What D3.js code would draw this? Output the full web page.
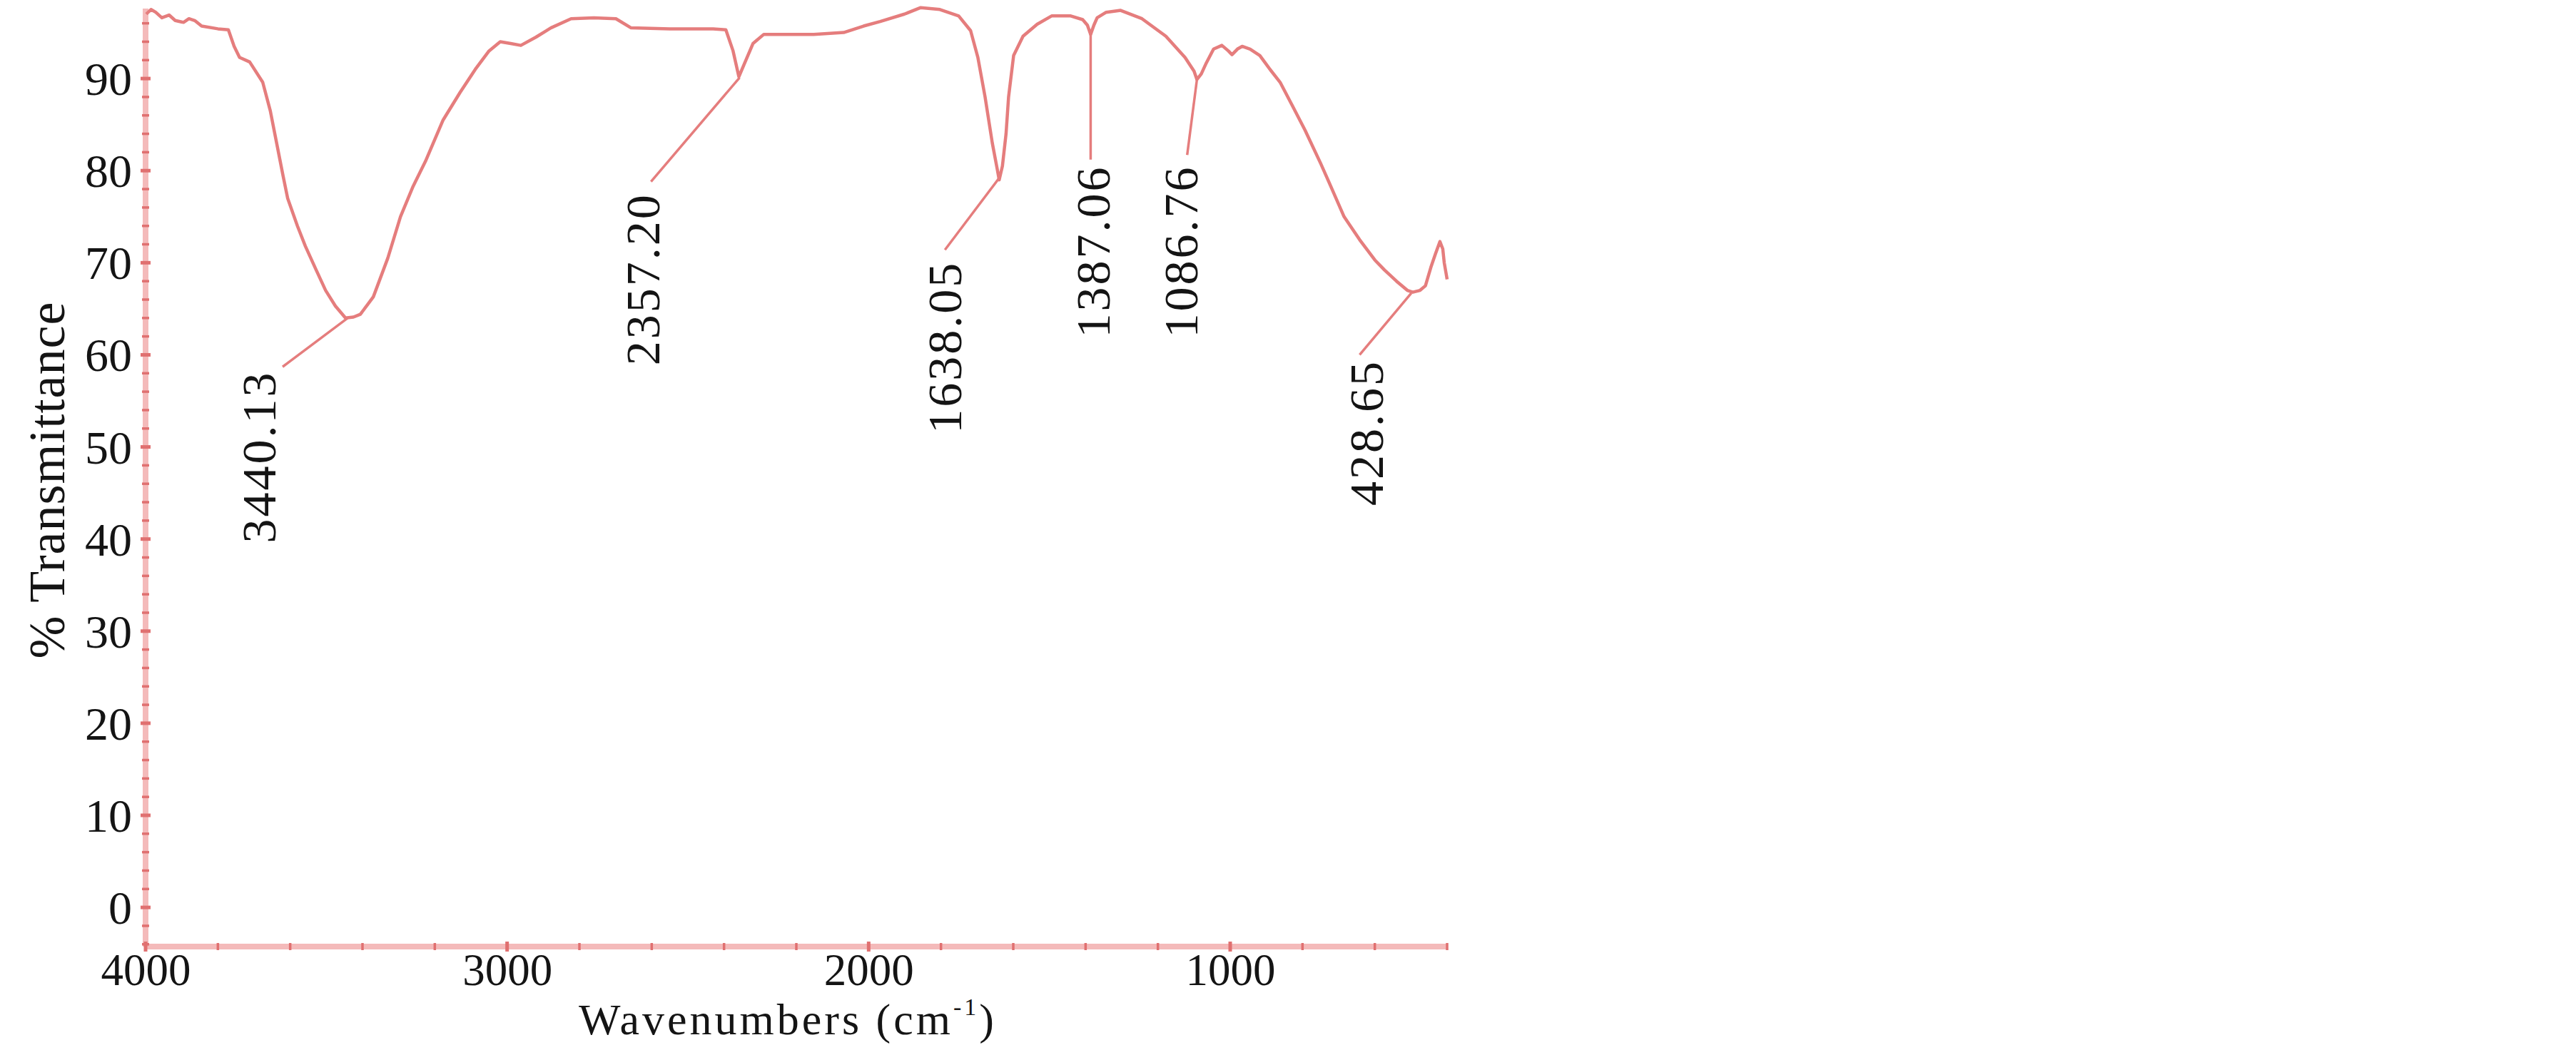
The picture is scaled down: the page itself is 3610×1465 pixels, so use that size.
<!DOCTYPE html>
<html>
<head>
<meta charset="utf-8">
<script src="https://cdn.jsdelivr.net/npm/d3@7"></script>
<style>
  html, body { margin: 0; padding: 0; background: #ffffff; }
  svg text { font-family: "Liberation Serif", "Times New Roman", serif; fill: #141414; }
</style>
</head>
<body>
<div id="chart"></div>
<script>
// FTIR spectrum (wavenumber in cm-1, % transmittance)
var wavenumbers = [3998, 3985, 3972, 3955, 3935, 3918, 3895, 3880, 3864, 3845, 3800, 3771, 3755, 3740, 3712,
  3676, 3655, 3641, 3620, 3607, 3580, 3558, 3528, 3502, 3475, 3447, 3425, 3406, 3385, 3370, 3330, 3295,
  3260, 3226, 3177, 3130, 3088, 3050, 3019, 2990, 2962, 2920, 2879, 2823, 2760, 2699, 2657, 2550, 2430,
  2395, 2375, 2359, 2345, 2320, 2290, 2200, 2152, 2069, 2014, 1968, 1901, 1856, 1803, 1751, 1718, 1698,
  1678, 1658, 1645, 1639, 1630, 1620, 1613, 1599, 1573, 1534, 1494, 1441, 1408, 1395, 1386, 1377, 1368,
  1343, 1303, 1244, 1178, 1125, 1100, 1092, 1080, 1066, 1046, 1023, 1005, 995, 980, 967, 945, 918, 890,
  862, 830, 793, 750, 724, 685, 642, 600, 573, 540, 510, 495, 475, 460, 445, 432, 420, 412, 408, 400];
var transmittance = [97.0, 97.5, 97.2, 96.6, 96.9, 96.3, 96.1, 96.5, 96.3, 95.7, 95.4, 95.3, 93.5, 92.3, 91.8,
  89.6, 86.5, 83.7, 79.5, 77.0, 74.0, 71.8, 69.2, 67.0, 65.3, 64.0, 64.1, 64.4, 65.5, 66.3, 70.5, 75.0,
  78.3, 81.0, 85.5, 88.5, 91.0, 93.0, 94.0, 93.8, 93.6, 94.5, 95.5, 96.5, 96.6, 96.5, 95.5, 95.4, 95.4,
  95.3, 93.0, 90.2, 91.5, 93.8, 94.8, 94.8, 94.8, 95.0, 95.7, 96.2, 97.0, 97.7, 97.5, 96.8, 95.2, 92.3,
  88.0, 83.0, 80.3, 79.0, 80.5, 84.0, 88.0, 92.5, 94.6, 95.9, 96.8, 96.8, 96.4, 95.8, 94.8, 95.8, 96.6,
  97.2, 97.4, 96.5, 94.6, 92.3, 90.8, 89.9, 90.5, 91.7, 93.2, 93.6, 93.0, 92.6, 93.2, 93.5, 93.2, 92.5, 91.0,
  89.6, 87.2, 84.4, 80.8, 78.5, 75.0, 72.5, 70.3, 69.2, 68.0, 67.0, 66.8, 67.0, 67.5, 69.5, 71.0, 72.3, 71.5, 70.0, 68.2];

// peak annotations: label text, point on the curve, end of the leader, label top
var peakLabels = ["3440.13", "2357.20", "1638.05", "1387.06", "1086.76", "428.65"];
var peakWave = [3441, 2357, 1639, 1386, 1092, 499];
var peakTrans = [64.0, 90.1, 79.2, 94.8, 89.9, 66.7];
var leaderWave = [3621, 2602, 1789, 1386, 1119, 642];
var leaderTrans = [58.7, 78.8, 71.4, 81.2, 81.7, 60.0];
var labelWave = [3688, 2626, 1791, 1380, 1137, 624];
var labelTrans = [58.3, 77.6, 70.2, 80.6, 80.6, 59.5];

var xMajorTicks = [4000, 3000, 2000, 1000];
var yMajorTicks = [0, 10, 20, 30, 40, 50, 60, 70, 80, 90];

var width = 3610;
var height = 1465;
var lineColor = "#e57d7d";
var axisColor = "#f0a3a3";
var tickColor = "#e07070";

var x = d3.scaleLinear().domain([4000, 400]).range([204, 2028]);
var y = d3.scaleLinear().domain([-4.25, 97.6]).range([1327, 12]);

var svg = d3.select("#chart")
    .append("svg")
    .attr("width", width)
    .attr("height", height);

svg.append("rect").attr("width", width).attr("height", height).attr("fill", "#ffffff");

// minor ticks every 2 % and every 200 cm-1
var yMinor = d3.range(-4, 97, 2);
var xMinor = d3.range(4000, 399, -200);

var yAxisG = svg.append("g").attr("transform", "translate(" + x(4000) + ",0)");
yAxisG.call(d3.axisLeft(y).tickValues(yMajorTicks).tickSize(0).tickPadding(19));
yAxisG.select(".domain").remove();
yAxisG.selectAll("text").style("font-size", "66px").attr("dy", "0.34em");

var xAxisG = svg.append("g").attr("transform", "translate(0," + y(-4.25) + ")");
xAxisG.call(d3.axisBottom(x).tickValues(xMajorTicks).tickSize(0).tickPadding(9).tickFormat(d3.format("d")));
xAxisG.select(".domain").remove();
xAxisG.selectAll("text").style("font-size", "63px").attr("dy", "0.71em");

// axis lines (thick, soft pink)
svg.append("line")
    .attr("x1", x(4000)).attr("x2", x(4000))
    .attr("y1", y(-4.25)).attr("y2", y(97.6))
    .attr("stroke", axisColor).attr("stroke-width", 8).attr("stroke-opacity", 0.75);
svg.append("line")
    .attr("x1", x(4000)).attr("x2", x(400))
    .attr("y1", y(-4.25)).attr("y2", y(-4.25))
    .attr("stroke", axisColor).attr("stroke-width", 8).attr("stroke-opacity", 0.75);

// tick marks across the axis lines
svg.append("g").selectAll("line")
    .data(yMinor)
    .enter()
    .append("line")
    .attr("x1", d => x(4000) - (d % 10 === 0 ? 7 : 5))
    .attr("x2", d => x(4000) + (d % 10 === 0 ? 7 : 5))
    .attr("y1", d => y(d)).attr("y2", d => y(d))
    .attr("stroke", tickColor)
    .attr("stroke-width", d => d % 10 === 0 ? 5 : 3.5);

svg.append("g").selectAll("line")
    .data(xMinor)
    .enter()
    .append("line")
    .attr("x1", d => x(d)).attr("x2", d => x(d))
    .attr("y1", d => y(-4.25) - (d % 1000 === 0 ? 7 : 5))
    .attr("y2", d => y(-4.25) + (d % 1000 === 0 ? 7 : 5))
    .attr("stroke", tickColor)
    .attr("stroke-width", d => d % 1000 === 0 ? 5 : 3.5);

// spectrum
var spectrum = wavenumbers.map((w, i) => ({ w: w, t: transmittance[i] }));
var line = d3.line()
    .x(d => x(d.w))
    .y(d => y(d.t));

svg.append("path")
    .datum(spectrum)
    .attr("d", line)
    .attr("fill", "none")
    .attr("stroke", lineColor)
    .attr("stroke-width", 4.5)
    .attr("stroke-linejoin", "round");

// peak leaders and labels
var peaks = peakLabels.map((label, i) => ({
    label: label,
    pw: peakWave[i], pt: peakTrans[i],
    lw: leaderWave[i], lt: leaderTrans[i],
    tw: labelWave[i], tt: labelTrans[i]
}));

var peakG = svg.append("g").selectAll("g")
    .data(peaks)
    .enter()
    .append("g");

peakG.append("line")
    .attr("x1", d => x(d.pw)).attr("y1", d => y(d.pt))
    .attr("x2", d => x(d.lw)).attr("y2", d => y(d.lt))
    .attr("stroke", lineColor)
    .attr("stroke-width", 3.5);

peakG.append("text")
    .attr("transform", d => "translate(" + x(d.tw) + "," + y(d.tt) + ") rotate(-90)")
    .attr("text-anchor", "end")
    .attr("dy", "0.35em")
    .style("font-size", "68px")
    .style("letter-spacing", "3px")
    .text(d => d.label);

// axis titles
svg.append("text")
    .attr("transform", "translate(65," + 673 + ") rotate(-90)")
    .attr("text-anchor", "middle")
    .attr("dy", "0.35em")
    .style("font-size", "72px")
    .style("letter-spacing", "1px")
    .text("% Transmittance");

var xTitle = svg.append("text")
    .attr("x", 1104)
    .attr("y", 1450)
    .attr("text-anchor", "middle")
    .style("font-size", "62px")
    .style("letter-spacing", "4px");
xTitle.append("tspan").text("Wavenumbers (cm");
xTitle.append("tspan").attr("dy", -27).style("font-size", "34px").text("-1");
xTitle.append("tspan").attr("dy", 27).text(")");
</script>
</body>
</html>
